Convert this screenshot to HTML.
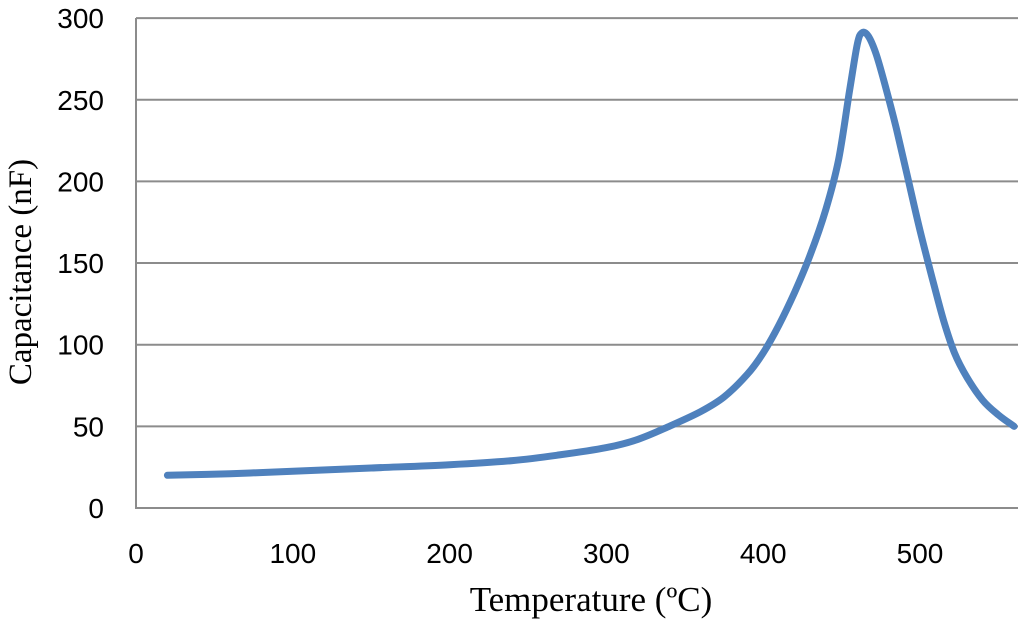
<!DOCTYPE html>
<html><head><meta charset="utf-8"><style>
body{margin:0;background:#fff}
svg text{font-family:"Liberation Sans",sans-serif}
</style></head><body>
<svg width="1024" height="622" id="c"></svg>
<script>
const xs=[20,60,100,150,200,240,270,300,320,340,360,375,390,400,410,420,430,440,448,455,460,463,467,472,478,485,492,500,508,515,522,530,540,550,560];
const ys=[20,21,22.5,24.5,26.5,29,32.5,37,42,50,59,68,82,95,112,132,155,183,213,255,284,291,289,278,258,232,203,170,140,115,95,80,66,57,50];
const xTicks=[0,100,200,300,400,500];
const yTicks=[0,50,100,150,200,250,300];
const X=v=>136+v*1.568, Y=v=>508-v*1.633;
const s=document.getElementById('c'),NS='http://www.w3.org/2000/svg';
function mk(t,a,p){const e=document.createElementNS(NS,t);for(const k in a)e.setAttribute(k,a[k]);(p||s).appendChild(e);return e;}
yTicks.forEach(v=>{
 if(v>0){const g=mk('line',{x1:136,x2:1018,y1:Y(v),y2:Y(v),stroke:'#8c8c8c','stroke-width':2});
 
 }
 const t=mk('text',{x:104,y:Y(v)+10,'text-anchor':'end','font-size':28,fill:'#000'});t.textContent=v;
 
 
});
xTicks.forEach(v=>{
 const t=mk('text',{x:X(v),y:563,'text-anchor':'middle','font-size':28,fill:'#000'});t.textContent=v;
 
 
});
const ax=mk('polyline',{points:'136,18 136,508 1018,508',fill:'none',stroke:'#8c8c8c','stroke-width':2});


const P=xs.map((x,i)=>[X(x),Y(ys[i])]);
let d='M'+P[0][0].toFixed(1)+','+P[0][1].toFixed(1);
for(let i=0;i<P.length-1;i++){
 const p0=P[Math.max(0,i-1)],p1=P[i],p2=P[i+1],p3=P[Math.min(P.length-1,i+2)];
 const c1=[p1[0]+(p2[0]-p0[0])/6,p1[1]+(p2[1]-p0[1])/6],c2=[p2[0]-(p3[0]-p1[0])/6,p2[1]-(p3[1]-p1[1])/6];
 d+='C'+c1.map(v=>v.toFixed(1)).join(',')+' '+c2.map(v=>v.toFixed(1)).join(',')+' '+p2.map(v=>v.toFixed(1)).join(',');
}
const p=mk('path',{d:d,fill:'none',stroke:'#4f81bd','stroke-width':7,'stroke-linecap':'round','stroke-linejoin':'round'});


const xt=mk('text',{x:591,y:611,'text-anchor':'middle','font-size':35,style:'font-family:"Liberation Serif",serif'});xt.textContent='Temperature (ºC)';


const yt=mk('text',{x:0,y:0,'text-anchor':'middle','font-size':33,transform:'translate(31,272) rotate(-90)',style:'font-family:"Liberation Serif",serif'});yt.textContent='Capacitance (nF)';


</script>
</body></html>
